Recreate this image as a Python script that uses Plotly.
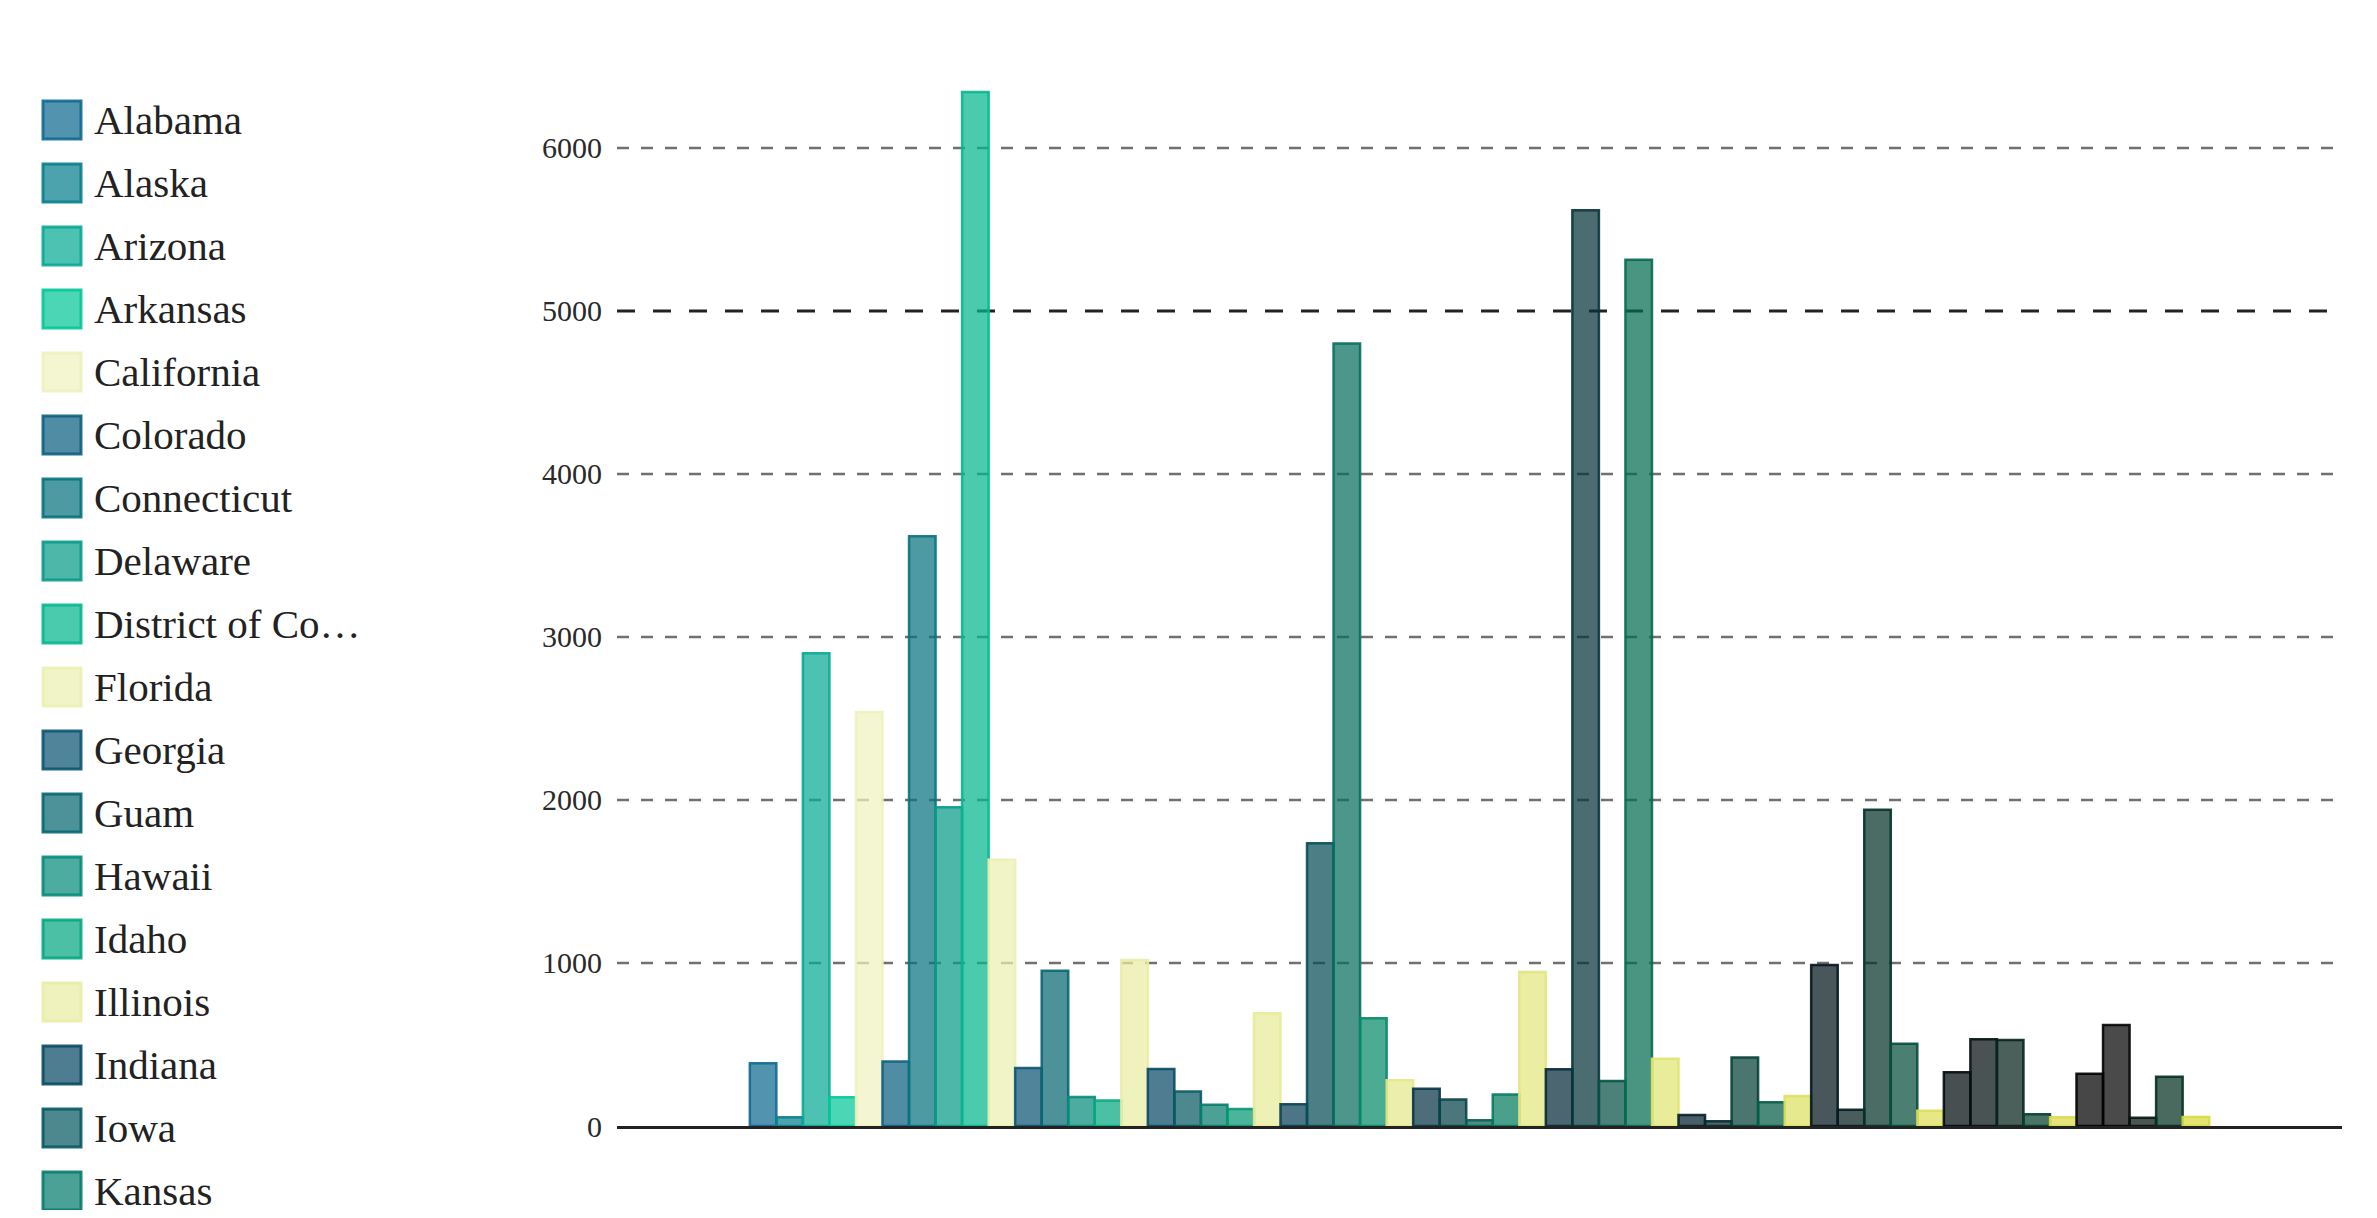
import plotly.graph_objects as go

# one bar per state/territory, all in a single category
states = [
    "Alabama", "Alaska", "Arizona", "Arkansas", "California",
    "Colorado", "Connecticut", "Delaware", "District of Columbia", "Florida",
    "Georgia", "Guam", "Hawaii", "Idaho", "Illinois",
    "Indiana", "Iowa", "Kansas", "Kentucky", "Louisiana",
    "Maine", "Maryland", "Massachusetts", "Michigan", "Minnesota",
    "Mississippi", "Missouri", "Montana", "Nebraska", "Nevada",
    "New Hampshire", "New Jersey", "New Mexico", "New York", "North Carolina",
    "North Dakota", "Northern Mariana Islands", "Ohio", "Oklahoma", "Oregon",
    "Pennsylvania", "Puerto Rico", "Rhode Island", "South Carolina", "South Dakota",
    "Tennessee", "Texas", "Utah", "Vermont", "Virgin Islands",
    "Virginia", "Washington", "West Virginia", "Wisconsin", "Wyoming",
]
values = [
    385, 53, 2900, 176, 2540,
    395, 3618, 1955, 6344, 1634,
    356, 952, 178, 156, 1018,
    350, 211, 131, 104, 691,
    133, 1735, 4800, 661, 280,
    229, 162, 35, 193, 945,
    348, 5618, 276, 5315, 413,
    67, 29, 420, 145, 184,
    988, 100, 1940, 505, 94,
    330, 532, 528, 72, 54,
    321, 620, 50, 302, 55,
]
category = ["All"]
y_ticks = [0, 1000, 2000, 3000, 4000, 5000, 6000]
threshold = 5000

# palette: five hues, each fading toward a dark end colour over the cycles
start_rgb = [(15, 106, 145), (9, 127, 141), (8, 170, 149), (5, 198, 154), (238, 242, 190)]
end_rgb = [(0, 0, 0), (4, 4, 4), (5, 20, 15), (4, 48, 34), (215, 218, 62)]

# page body has an 8px margin, so the figure is 16px smaller than the window
W, H = 2361, 1202
ML, MR, MT, MB = 609, 27, 42, 84
FONT = "Liberation Serif"


def state_color(i):
    pos = i % 5
    t = (i // 5) / 10
    return tuple(round(a + (b - a) * t) for a, b in zip(start_rgb[pos], end_rgb[pos]))


def rgba(c, a):
    return f"rgba({c[0]},{c[1]},{c[2]},{a})"


def px_x(px):
    return (px - ML) / (W - ML - MR)


def px_y(py):
    return (H - MB - py) / (H - MT - MB)


fig = go.Figure()
for i, (name, val) in enumerate(zip(states, values)):
    c = state_color(i)
    fig.add_trace(go.Bar(
        x=category,
        y=[val],
        name=name,
        marker=dict(color=rgba(c, 0.72), line=dict(color=rgba(c, 0.9), width=2.5)),
        showlegend=False,
    ))

shapes = []
for t in y_ticks[1:]:
    is_thr = t == threshold
    shapes.append(dict(
        type="line", xref="paper", yref="y", x0=0, x1=1, y0=t, y1=t,
        layer="below",
        line=dict(color="#222222" if is_thr else "#707070",
                  width=3 if is_thr else 2.4,
                  dash="18px,18px" if is_thr else "12px,12px"),
    ))

# hand-drawn legend down the left side
annotations = []
for i, name in enumerate(states):
    c = state_color(i)
    cy = 112 + 63 * i
    if cy - 20 > H:
        break
    label = name if len(name) <= 15 else name[:14] + "…"
    shapes.append(dict(
        type="rect", xref="paper", yref="paper",
        x0=px_x(35), x1=px_x(73), y0=px_y(cy + 19), y1=px_y(cy - 19),
        fillcolor=rgba(c, 0.72), line=dict(color=rgba(c, 0.9), width=3),
    ))
    annotations.append(dict(
        text=label, xref="paper", yref="paper", x=px_x(84), y=px_y(cy),
        xanchor="left", yanchor="middle", showarrow=False,
        font=dict(family=FONT, size=41, color="#222222"),
    ))

fig.update_layout(
    width=W, height=H,
    margin=dict(l=ML, r=MR, t=MT, b=MB),
    barmode="group",
    bargap=0.154,
    bargroupgap=0,
    paper_bgcolor="white",
    plot_bgcolor="rgba(0,0,0,0)",
    showlegend=False,
    shapes=shapes,
    annotations=annotations,
    xaxis=dict(
        type="category", range=[-0.5, 0.5],
        showticklabels=False, showgrid=False, zeroline=False,
        showline=True, linecolor="#222222", linewidth=3,
    ),
    yaxis=dict(
        range=[0, 6601], tickvals=y_ticks,
        showgrid=False, zeroline=False, showline=False,
        ticklabelstandoff=14,
        tickfont=dict(family=FONT, size=30, color="#2a2a2a"),
    ),
)

fig.write_html("out.html")
